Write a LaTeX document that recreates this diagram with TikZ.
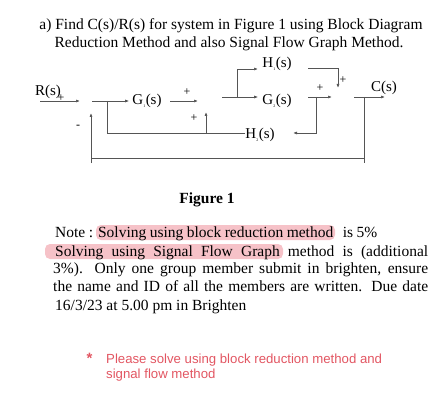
\documentclass[tikz,border=0pt]{standalone}
\usepackage{fontspec}
\setmainfont{Liberation Serif}
\newfontfamily\notefont{Liberation Sans}
\usetikzlibrary{arrows.meta,positioning}
\definecolor{wire}{RGB}{85,85,85}
\definecolor{marker}{RGB}{246,194,200}
\definecolor{remark}{RGB}{226,86,98}
\newcommand{\blk}[2]{#1\textsubscript{\fontsize{4}{4}\selectfont #2}(s)}

\begin{document}
\begin{tikzpicture}[x=1pt,y=-1pt,>={Latex[length=4pt,width=3pt]},
	txt/.style={inner sep=0pt,anchor=base,font=\fontsize{15.5}{18}\selectfont},
	lbl/.style={inner sep=0pt,anchor=base,font=\fontsize{15}{18}\selectfont},
	sgn/.style={inner sep=0pt,font=\fontsize{12}{12}\selectfont},
	wire/.style={draw=wire,line width=0.7pt}]
	\useasboundingbox (0,0) rectangle (447,401);
	
	% question
	\node[txt] (ask) at (231,29.5) {a) Find C(s)/R(s) for system in Figure 1 using Block Diagram};
	\node[txt] (ask2) at (229,47.5) {Reduction Method and also Signal Flow Graph Method.};
	
	% block labels
	\node[lbl] (R) at (48,96) {R(s)};
	\node[lbl] (G1) at (147,105) {\blk{G}{1}};
	\node[lbl] (H1) at (277,68) {\blk{H}{1}};
	\node[lbl] (G2) at (277,105) {\blk{G}{2}};
	\node[lbl] (H2) at (260,139) {\blk{H}{2}};
	\node[lbl] (C) at (384,92) {C(s)};
	
	% signs
	\node[sgn] (p0) at (61,98) {+};
	\node[sgn] (m1) at (78,127) {-};
	\node[sgn] (p1) at (187,92) {+};
	\node[sgn] (p2) at (194,118) {+};
	\node[sgn] (p3) at (320,88) {+};
	\node[sgn] (p4) at (343,80) {+};
	
	% wire points
	\coordinate (rin) at (40,101);
	\coordinate (e1) at (80,101);
	\coordinate (e1o) at (92,101);
	\coordinate (j1) at (107,101);
	\coordinate (g1o) at (170,101);
	\coordinate (e2) at (198,101);
	\coordinate (e2b) at (206,112);
	\coordinate (k1) at (206,133);
	\coordinate (e2o) at (222,97);
	\coordinate (j2) at (237,97);
	\coordinate (h1in) at (258,69);
	\coordinate (h1o) at (308,68);
	\coordinate (h1c) at (338,68);
	\coordinate (e3a) at (338,88);
	\coordinate (g2o) at (308,97);
	\coordinate (e3b) at (332,97);
	\coordinate (j3) at (316,97);
	\coordinate (h2in) at (293,133);
	\coordinate (e3o) at (354,97);
	\coordinate (cout) at (385,97);
	\coordinate (j4) at (364,97);
	\coordinate (b1) at (364,163);
	\coordinate (b2) at (364,158);
	\coordinate (b3) at (91,158);
	\coordinate (b4) at (91,163);
	\coordinate (e1b) at (91,113);
	
	\draw[wire,->] (rin) -- (e1);
	\draw[wire,->,shorten >=3pt] (e1o) -- (e1o -| G1.west);
	\draw[wire,->] (g1o) -- (e2);
	\draw[wire] (j1) |- (k1);
	\draw[wire] (H2.west |- k1) -- (k1);
	\draw[wire,->] (k1) -- (e2b);
	\draw[wire,->,shorten >=4pt] (e2o) -- (e2o -| G2.west);
	\draw[wire,->] (j2) |- (h1in);
	\draw[wire,->] (h1o) -- (h1c) -- (e3a);
	\draw[wire,->] (g2o) -- (e3b);
	\draw[wire,->] (j3) |- (h2in);
	\draw[wire,->] (e3o) -- (cout);
	\draw[wire] (j4) -- (b1);
	\draw[wire] (b2) -- (b3);
	\draw[wire,->] (b4) -- (e1b);
	
	\node[txt,font=\bfseries\fontsize{15.5}{18}\selectfont] (fig) at (207,203) {Figure 1};
	
	% note
	\fill[marker,rounded corners=5pt] (96,225) rectangle (335,240);
	\fill[marker,rounded corners=5pt] (45,244) rectangle (283,259);
	\node[txt,anchor=base west] (n1) at (55,237) {\makebox[322pt][s]{Note : Solving using block reduction method\hspace{6pt} is 5\%}};
	\node[txt,anchor=base west] (n2) at (55,256) {\makebox[373pt][s]{Solving using Signal Flow Graph method is (additional}};
	\node[txt,anchor=base west] (n3) at (53,273.5) {\makebox[375pt][s]{3\%). Only one group member submit in brighten, ensure}};
	\node[txt,anchor=base west] (n4) at (53,291.5) {\makebox[375pt][s]{the name and ID of all the members are written. Due date}};
	\node[txt,anchor=base west] (n5) at (55,310) {16/3/23 at 5.00 pm in Brighten};
	
	% red remark
	\node[inner sep=0pt,anchor=north,text=remark,font=\notefont\bfseries\fontsize{15}{15}\selectfont] (star) at (89.5,353) {*};
	\node[inner sep=0pt,anchor=base west,text=remark,font=\notefont\fontsize{13.2}{15}\selectfont] (rem1) at (106,363) {Please solve using block reduction method and};
	\node[inner sep=0pt,anchor=base west,text=remark,font=\notefont\fontsize{13.2}{15}\selectfont] (rem2) at (106,378) {signal flow method};
\end{tikzpicture}
\end{document}
